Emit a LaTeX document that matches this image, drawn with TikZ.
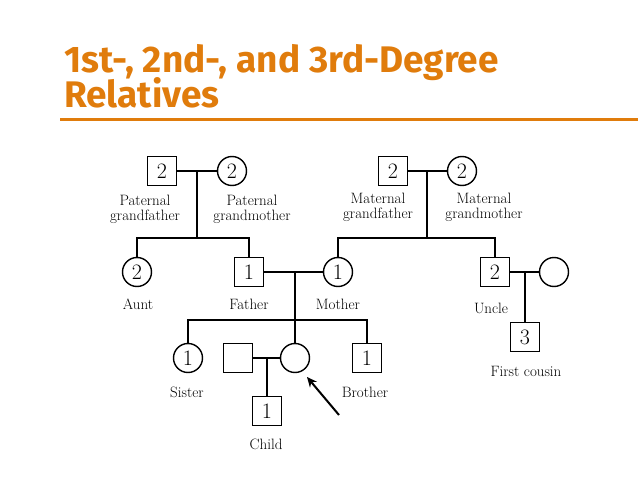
\documentclass[tikz,border=0pt]{standalone}
\usepackage{fontspec}
\usetikzlibrary{arrows.meta}
\newfontfamily\titlefont{Fira Sans}
\definecolor{orng}{HTML}{E07C0C}
\begin{document}
\begin{tikzpicture}[x=1pt,y=-1pt,
  m/.style={draw,line width=1.4pt,minimum size=29pt,inner sep=0pt,font=\fontsize{22}{22}\selectfont},
  f/.style={m,circle},
  lbl/.style={align=center,font=\fontsize{15}{15}\selectfont},
  ln/.style={line width=1.4pt}]
\useasboundingbox (0,0) rectangle (638,479);
\node[anchor=base west,text=orng,font=\titlefont\bfseries\fontsize{37}{37}\selectfont,inner sep=0] (t1) at (64,72) {1st-, 2nd-, and 3rd-Degree};
\node[anchor=base west,text=orng,font=\titlefont\bfseries\fontsize{37}{37}\selectfont,inner sep=0] (t2) at (64,107) {Relatives};
\coordinate (r1) at (60,119); \coordinate (r2) at (638,119);
\draw[orng,line width=3pt] (r1) -- (r2);
% nodes
\node[m] (pgf) at (162,171) {2};
\node[f] (pgm) at (232,171) {2};
\node[m] (mgf) at (393,171) {2};
\node[f] (mgm) at (462,171) {2};
\node[f] (aunt) at (137,272) {2};
\node[m] (fa) at (249,272) {1};
\node[f] (mo) at (338,272) {1};
\node[m] (un) at (495,272) {2};
\node[f] (uw) at (554,272) {};
\node[m] (co) at (525,337) {3};
\node[f] (si) at (188,358) {1};
\node[m] (sp) at (238,358) {};
\node[f] (pr) at (295,358) {};
\node[m] (br) at (367,358) {1};
\node[m] (ch) at (267,411) {1};
% labels
\node[lbl] (l1) at (145,209) {Paternal\\grandfather};
\node[lbl] (l2) at (252,209) {Paternal\\grandmother};
\node[lbl] (l3) at (378,207) {Maternal\\grandfather};
\node[lbl] (l4) at (484,207) {Maternal\\grandmother};
\node[lbl] (l5) at (138,304) {Aunt};
\node[lbl] (l6) at (249,304) {Father};
\node[lbl] (l7) at (338,304) {Mother};
\node[lbl] (l8) at (491,308) {Uncle};
\node[lbl] (l9) at (187,392) {Sister};
\node[lbl] (l10) at (365,392) {Brother};
\node[lbl] (l11) at (266,444) {Child};
\node[lbl] (l12) at (526,371) {First cousin};
% coords
\coordinate (c1) at (197,171); \coordinate (c1b) at (197,238);
\coordinate (c2) at (427,171); \coordinate (c2b) at (427,238);
\coordinate (c3) at (295,272); \coordinate (c3b) at (295,320);
\coordinate (c4) at (525,272);
\coordinate (c5) at (267,358);
\coordinate (a1) at (339,415); \coordinate (a2) at (307,377);
\draw[ln] (pgf) -- (pgm); \draw[ln] (c1) -- (c1b);
\draw[ln] (aunt.north) |- (c1b) -| (fa.north);
\draw[ln] (mgf) -- (mgm); \draw[ln] (c2) -- (c2b);
\draw[ln] (mo.north) |- (c2b) -| (un.north);
\draw[ln] (fa) -- (mo); \draw[ln] (c3) -- (c3b);
\draw[ln] (si.north) |- (c3b) -| (br.north);
\draw[ln] (c3b) -- (pr.north);
\draw[ln] (un) -- (uw); \draw[ln] (c4) -- (co.north);
\draw[ln] (sp) -- (pr); \draw[ln] (c5) -- (ch.north);
\draw[line width=2pt,-{Stealth[length=10pt,width=9pt]}] (a1) -- (a2);
\end{tikzpicture}
\end{document}
